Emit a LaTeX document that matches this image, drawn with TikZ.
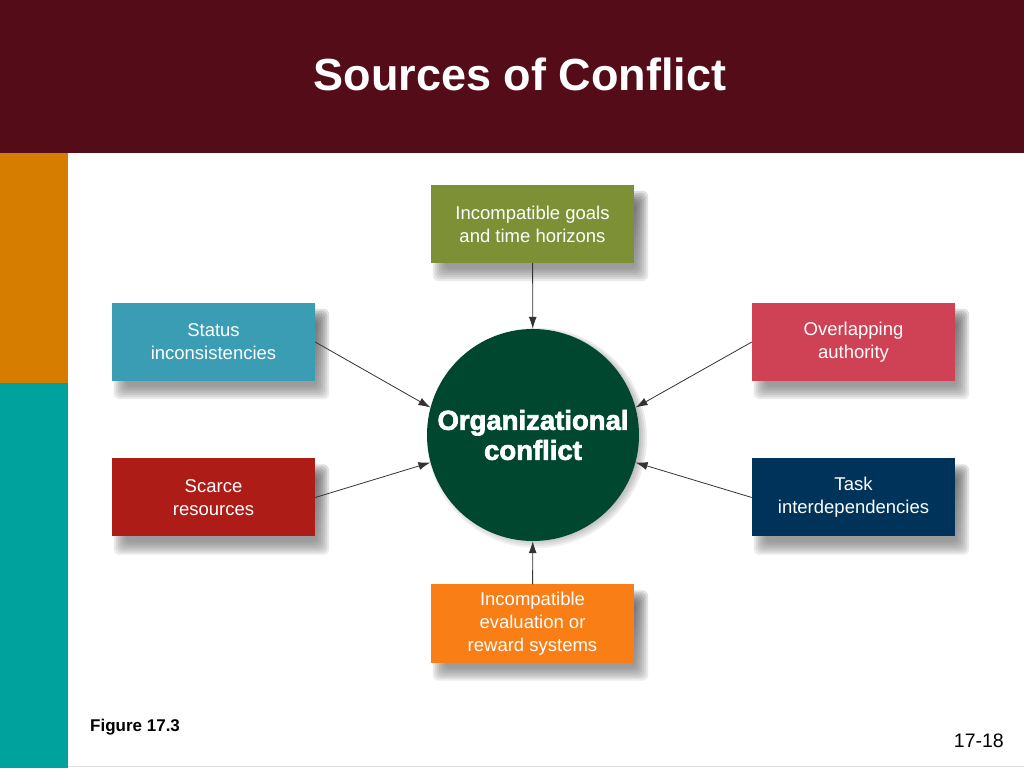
\documentclass[tikz,border=0pt]{standalone}
\usepackage{fontspec}
\setmainfont{Liberation Sans}
\newfontfamily\heavyfont{Liberation Sans Bold}[FakeBold=2.5]
\usetikzlibrary{arrows.meta}

\definecolor{header}{HTML}{540C18}
\definecolor{stripA}{HTML}{D67D00}
\definecolor{stripB}{HTML}{00A29E}
\definecolor{goalcol}{HTML}{7D9035}
\definecolor{statuscol}{HTML}{3A9DB4}
\definecolor{scarcecol}{HTML}{AE1C18}
\definecolor{overlapcol}{HTML}{CF4154}
\definecolor{taskcol}{HTML}{00335A}
\definecolor{rewardcol}{HTML}{F97E16}
\definecolor{conflictcol}{HTML}{004730}
\definecolor{shade}{HTML}{3A2A1A}

\pgfdeclarelayer{back}
\pgfsetlayers{back,main}

\tikzset{
    source/.style={minimum width=203pt, minimum height=78pt, inner sep=0pt,
        text=white, align=center, font=\fontsize{18.5}{23}\selectfont},
    link/.style={->, draw=black!80, line width=.8pt}
}

\begin{document}
\begin{tikzpicture}[>={Latex[length=12pt, width=8pt]}, x=1pt, y=1pt]
            \useasboundingbox (0, 0) rectangle (1024, 768);
            \node[anchor=base, text=white, font=\fontsize{45}{50}\selectfont\bfseries] (title) at (520, 677) {Sources of Conflict};

            % sources
            \node[source, fill=goalcol] (goals) at (532.5, 544) {Incompatible goals\\and time horizons};
            \node[source, fill=statuscol] (status) at (213.5, 426) {Status\\inconsistencies};
            \node[source, fill=scarcecol] (scarce) at (213.5, 270.5) {Scarce\\resources};
            \node[source, fill=overlapcol] (overlap) at (853.5, 426) {Overlapping\\authority};
            \node[source, fill=taskcol] (task) at (853.5, 270.5) {Task\\interdependencies};
            \node[source, fill=rewardcol] (reward) at (532.5, 144.5) {Incompatible\\evaluation or\\reward systems};

            % center
            \node[circle, fill=conflictcol, minimum size=212pt, inner sep=0pt, text=white, align=center,
                font=\fontsize{27.5}{30}\selectfont\heavyfont]
                (conflict) at (533, 333) {Organizational\\conflict};

            \draw[link] (goals) -- (conflict);
            \draw[link] (reward) -- (conflict);
            \draw[link] (status.east) -- (conflict.165);
            \draw[link] (scarce.east) -- (conflict.195);
            \draw[link] (overlap.west) -- (conflict.15);
            \draw[link] (task.west) -- (conflict.-15);

            % footer
            \node[anchor=base west, inner sep=0pt, font=\fontsize{17}{20}\selectfont\bfseries] (fig) at (90, 37) {Figure 17.3};
            \node[anchor=base east, inner sep=0pt, font=\fontsize{19.5}{22}\selectfont] (page) at (1004, 21) {17-18};

            % slide frame and shadows
            \begin{pgfonlayer}{back}
                \fill[white] (0, 0) rectangle (1024, 768);
                \fill[header] (0, 615) rectangle (1024, 768);
                \fill[stripA] (0, 385) rectangle (68, 615);
                \fill[stripB] (0, 0) rectangle (68, 385);
                \draw[black!12] (68, 2) -- (1024, 2);
                \foreach \b in {goals, status, scarce, overlap, task, reward}
                {
                    \foreach \e in {-6, -4, ..., 6}
                        \fill[shade, opacity=.085, rounded corners=6pt]
                            ([shift={(8-\e, -12-\e)}]\b.south west) rectangle ([shift={(8+\e, -12+\e)}]\b.north east);
                }
                \foreach \e in {-4, -2, ..., 4}
                    \fill[shade, opacity=.06] ([shift={(4, -3)}]conflict.center) circle (106+\e);
            \end{pgfonlayer}
        \end{tikzpicture}
\end{document}
